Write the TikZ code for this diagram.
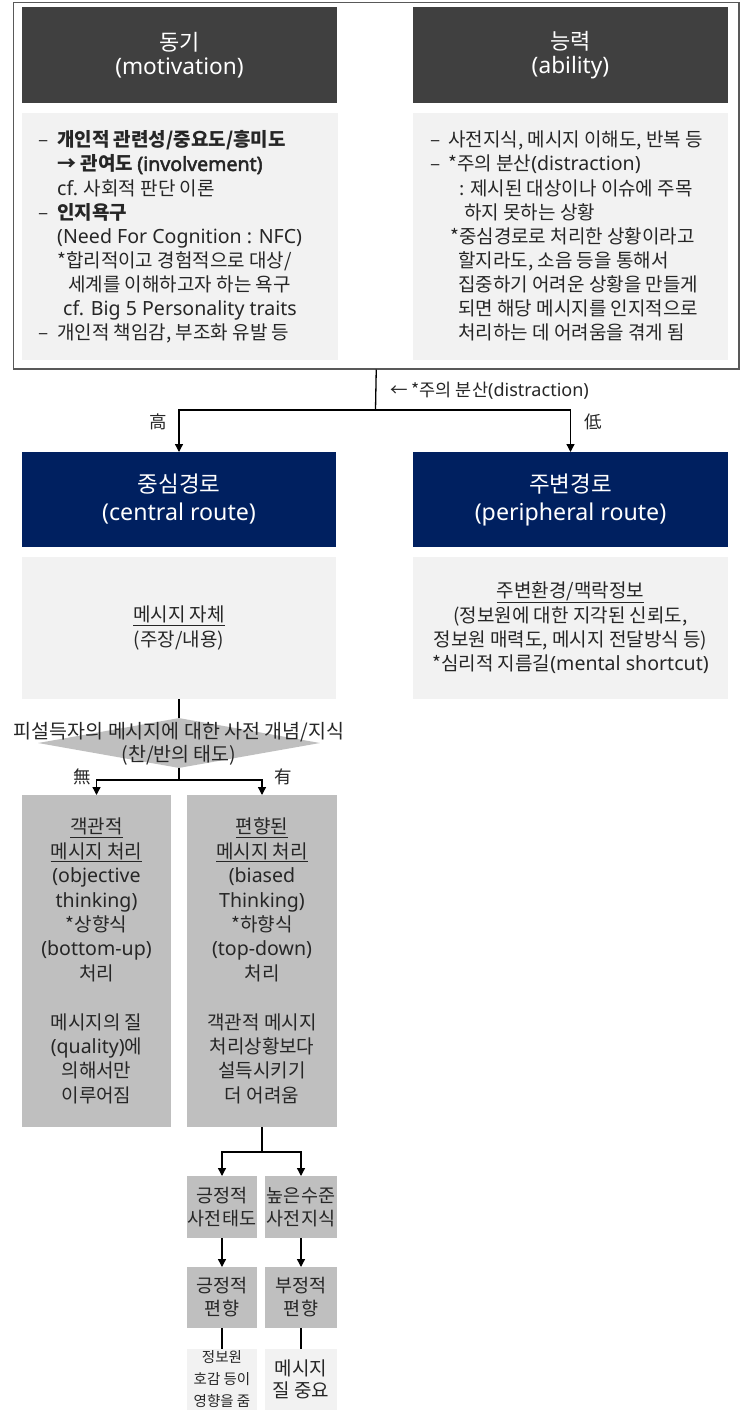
\documentclass[tikz,border=0pt]{standalone}
\usepackage{fontspec}
\setmainfont{Noto Sans CJK KR}
\newfontfamily\latfont{Noto Sans}[Scale=1.03, BoldFont={Noto Sans}, BoldFeatures={FakeBold=2.5}]
\newcommand\en[1]{{\latfont #1}}
\usetikzlibrary{arrows.meta,shapes.geometric}
\definecolor{darkbg}{HTML}{404040}
\definecolor{navybg}{HTML}{002060}
\definecolor{lightbg}{HTML}{F2F2F2}
\definecolor{graybg}{HTML}{BFBFBF}
\definecolor{framec}{HTML}{595959}
\definecolor{txt}{HTML}{262626}
\newcommand\fs[2]{\fontsize{#1}{#2}\selectfont}
\begin{document}
\begin{tikzpicture}[x=1pt,y=-1pt,
  box/.style={anchor=north west, inner sep=0pt, outer sep=0pt, align=center},
  darkbox/.style={box, fill=darkbg, text=white, font=\fs{22}{24.5}},
  navybox/.style={box, fill=navybg, text=white, font=\fs{22.5}{28}},
  lightbox/.style={box, fill=lightbg, text=txt, font=\fs{19}{24.4}},
  graybox/.style={box, fill=graybg, text=txt, font=\fs{19}{24.4}},
  smallbox/.style={box, fill=graybg, text=txt, font=\fs{18.5}{23}},
  listtext/.style={anchor=base west, inner sep=0pt, text=txt},
  conn/.style={line width=1.3pt, draw=black},
  arr/.style={conn, -{Triangle[length=8pt,width=8pt]}},
  lbl/.style={inner sep=0pt, text=txt, font=\fs{17.5}{20}},
]
\useasboundingbox (0,0) rectangle (740,1420);
\fill[white] (0,0) rectangle (740,1420);

% ---------- top frame ----------
\node[anchor=north west, draw=framec, line width=1.5pt, inner sep=0pt,
      minimum width=725.6pt, minimum height=366.3pt] (frame) at (12.7,1.7) {};
\node[darkbox, minimum width=315pt, minimum height=96pt] (mot) at (22,7) {동기\\\en{(motivation)}};
\node[darkbox, minimum width=315pt, minimum height=96pt] (abil) at (413,7) {능력\\\en{(ability)}};
\node[box, fill=lightbg, minimum width=316pt, minimum height=247pt] (motl) at (22,113) {};
\node[box, fill=lightbg, minimum width=315pt, minimum height=247pt] (abill) at (413,113) {};

\node[listtext, font=\fs{19}{24.15}] (motlist) at (38,146.8) {%
\begin{tabular}[t]{@{}p{19pt}@{}l@{}}
– & \textbf{개인적 관련성/중요도/흥미도}\\
  & \textbf{→ 관여도 \en{(involvement)}}\\
  & \en{cf.} 사회적 판단 이론\\
– & \textbf{인지욕구}\\
  & \en{(Need For Cognition : NFC)}\\
  & *합리적이고 경험적으로 대상/\\
  & \hspace{11pt}세계를 이해하고자 하는 욕구\\
  & \hspace{6pt}\en{cf. Big 5 Personality traits}\\
– & 개인적 책임감, 부조화 유발 등
\end{tabular}};

\node[listtext, font=\fs{19}{24.15}] (abillist) at (430,146.8) {%
\begin{tabular}[t]{@{}p{18pt}@{}l@{}}
– & 사전지식, 메시지 이해도, 반복 등\\
– & *주의 분산\en{(distraction)}\\
  & \hspace{11pt}: 제시된 대상이나 이슈에 주목\\
  & \hspace{16pt}하지 못하는 상황\\
  & \hspace{2pt}*중심경로로 처리한 상황이라고\\
  & \hspace{10pt}할지라도, 소음 등을 통해서\\
  & \hspace{10pt}집중하기 어려운 상황을 만들게\\
  & \hspace{10pt}되면 해당 메시지를 인지적으로\\
  & \hspace{10pt}처리하는 데 어려움을 겪게 됨
\end{tabular}};

% ---------- routes ----------
\node[navybox, minimum width=314pt, minimum height=95pt] (central) at (22,452) {중심경로\\\en{(central route)}};
\node[navybox, minimum width=315pt, minimum height=95pt] (periph) at (413,452) {주변경로\\\en{(peripheral route)}};
\coordinate (split) at (375.5,410);
\draw[conn] (frame.south) -- (split);
\draw[arr] (split) -| (central.north);
\draw[arr] (split) -| (periph.north);
\node[lbl] (hi) at (158,422) {高};
\node[lbl] (lo) at (593,422) {低};
\node[lbl, anchor=west] (distr) at (390,391) {← *주의 분산\en{(distraction)}};

\node[lightbox, minimum width=314pt, minimum height=142pt] (msg) at (22,557)
  {\underline{메시지 자체}\\(주장/내용)};
\node[lightbox, minimum width=315pt, minimum height=142pt] (ctx) at (413,557)
  {\underline{주변환경/맥락정보}\\(정보원에 대한 지각된 신뢰도,\\정보원 매력도, 메시지 전달방식 등)\\*심리적 지름길\en{(mental shortcut)}};

% ---------- decision ----------
\node[diamond, fill=graybg, inner sep=0pt, minimum width=282pt, minimum height=50pt] (dia) at (179,743) {};
\node[inner sep=0pt, align=center, text=txt, font=\fs{19.5}{23.5}] (diatext) at (179,744) {피설득자의 메시지에 대한 사전 개념/지식\\(찬/반의 태도)};
\draw[conn] (msg.south) -- (dia.north);
\coordinate (split2) at (179,780);
\draw[conn] (dia.south) -- (split2);

\node[graybox, minimum width=149pt, minimum height=332pt] (obj) at (22,795)
  {\underline{객관적}\\\underline{메시지 처리}\\\en{(objective}\\\en{thinking)}\\*상향식\\\en{(bottom-up)}\\처리\\[24.4pt]메시지의 질\\\en{(quality)}에\\의해서만\\이루어짐};
\node[graybox, minimum width=150pt, minimum height=332pt] (bias) at (187,795)
  {\underline{편향된}\\\underline{메시지 처리}\\\en{(biased}\\\en{Thinking)}\\*하향식\\\en{(top-down)}\\처리\\[24.4pt]객관적 메시지\\처리상황보다\\설득시키기\\더 어려움};
\draw[arr] (split2) -| (obj.north);
\draw[arr] (split2) -| (bias.north);
\node[lbl] (none) at (82,777) {無};
\node[lbl] (have) at (283,777) {有};

% ---------- bottom chain ----------
\node[smallbox, minimum width=70pt, minimum height=62pt] (pa) at (187,1176) {긍정적\\사전태도};
\node[smallbox, minimum width=72pt, minimum height=62pt] (hk) at (265,1176) {높은수준\\사전지식};
\coordinate (split3) at (262,1152);
\draw[conn] (bias.south) -- (split3);
\draw[arr] (split3) -| (pa.north);
\draw[arr] (split3) -| (hk.north);

\node[smallbox, minimum width=70pt, minimum height=61pt] (pb) at (187,1267) {긍정적\\편향};
\node[smallbox, minimum width=72pt, minimum height=61pt] (nb) at (265,1267) {부정적\\편향};
\draw[arr] (pa.south) -- (pb.north);
\draw[arr] (hk.south) -- (nb.north);

\node[box, fill=lightbg, text=txt, font=\fs{14.5}{22}, minimum width=70pt, minimum height=61pt] (s1) at (187,1349) {정보원\\호감 등이\\영향을 줌};
\node[box, fill=lightbg, text=txt, font=\fs{19}{22}, minimum width=72pt, minimum height=61pt] (s2) at (265,1349) {메시지\\질 중요};
\draw[conn] (pb.south) -- (s1.north);
\draw[conn] (nb.south) -- (s2.north);
\end{tikzpicture}
\end{document}
